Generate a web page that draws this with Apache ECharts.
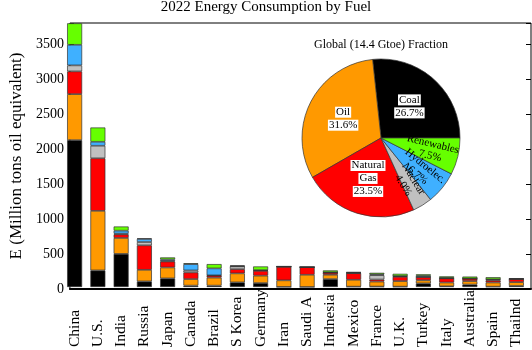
<!DOCTYPE html>
<html>
<head>
<meta charset="utf-8">
<script src="https://cdn.jsdelivr.net/npm/echarts@6/dist/echarts.min.js"></script>
<style>
  html, body { margin: 0; padding: 0; background: #fff; }
  #chart { width: 532px; height: 350px; }
</style>
</head>
<body>
<div id="chart"></div>
<script>
// countries, largest consumers first
const countries = ['China', 'U.S.', 'India', 'Russia', 'Japan', 'Canada', 'Brazil', 'S Korea', 'Germany', 'Iran',
  'Saudi A', 'Indnesia', 'Mexico', 'France', 'U.K.', 'Turkey', 'Italy', 'Australia', 'Spain', 'Thailnd']

// Mtoe per fuel
const coal = [2114, 239, 477, 81, 124, 20, 20, 67, 57, 1, 0, 114, 5, 6, 5, 52, 10, 35, 5, 15]
const oil = [662, 857, 229, 166, 157, 94, 115, 129, 106, 95, 176, 62, 99, 72, 80, 45, 55, 50, 60, 55]
const gas = [328, 757, 52, 353, 86, 96, 28, 61, 70, 195, 110, 30, 95, 30, 62, 47, 60, 35, 30, 45]
const nuclear = [86, 180, 10, 47, 10, 29, 5, 40, 6, 1, 0, 0, 3, 62, 10, 0, 0, 0, 12, 0]
const hydro = [296, 57, 43, 45, 20, 90, 100, 3, 4, 4, 0, 6, 6, 12, 1, 17, 8, 3, 4, 2]
const renewables = [310, 206, 60, 8, 29, 14, 62, 10, 53, 0, 0, 27, 6, 22, 32, 22, 20, 27, 30, 10]

// global share pie (percent)
const pieNames = ['Coal', 'Oil', 'Natural Gas', 'Nuclear', 'Hydroelec.', 'Renewables']
const pieShares = [26.7, 31.6, 23.5, 4.0, 6.7, 7.5]

const yTicks = [0, 500, 1000, 1500, 2000, 2500, 3000, 3500]

const colors = {
  Coal: '#000000',
  Oil: '#ff9900',
  'Natural Gas': '#ff0000',
  Nuclear: '#c0c0c0',
  'Hydroelec.': '#3fb0ff',
  Renewables: '#66ff00'
}

const serif = '"Liberation Serif", "DejaVu Serif", serif'
const chart = echarts.init(document.getElementById('chart'))

const fuelSeries = [
  ['Coal', coal], ['Oil', oil], ['Natural Gas', gas],
  ['Nuclear', nuclear], ['Hydroelec.', hydro], ['Renewables', renewables]
].map(([name, data]) => ({
  name: name,
  type: 'bar',
  stack: 'fuel',
  xAxisIndex: 0,
  yAxisIndex: 0,
  barWidth: 15,
  data: data,
  itemStyle: { color: colors[name], borderColor: '#333', borderWidth: 0.7 }
}))

// big slices get boxed labels inside, small ones get radial text
const boxed = ['Coal', 'Oil', 'Natural Gas']

const pieData = pieNames.map((n, i) => ({
  name: n,
  value: pieShares[i],
  itemStyle: { color: colors[n] },
  label: { show: boxed.includes(n) }
}))

// same slices, invisible, only used to carry the radial labels of the thin slices
const pieLabelData = pieNames.map((n, i) => ({
  name: n,
  value: pieShares[i],
  label: { show: !boxed.includes(n) }
}))

const option = {
  animation: false,
  title: [
    {
      text: '2022 Energy Consumption by Fuel',
      left: 'center',
      top: 0,
      padding: 0,
      textStyle: { fontFamily: serif, fontSize: 15, fontWeight: 'normal', color: '#000' }
    },
    {
      text: 'Global (14.4 Gtoe) Fraction',
      left: 381,
      textAlign: 'center',
      top: 39,
      padding: 0,
      textStyle: { fontFamily: serif, fontSize: 12, fontWeight: 'normal', color: '#000' }
    }
  ],
  grid: [
    { left: 63, right: 4, top: 23, bottom: 61 },
    { left: 60, right: 1, top: 23, bottom: 61, show: true, borderColor: '#000', borderWidth: 1, backgroundColor: 'transparent' }
  ],
  xAxis: [
    {
      type: 'category',
      gridIndex: 0,
      data: countries,
      axisLine: { show: false },
      axisTick: { show: false },
      axisLabel: {
        interval: 0,
        rotate: 90,
        align: 'left',
        margin: 60,
        fontFamily: serif,
        fontSize: 15.5,
        color: '#000'
      }
    },
    {
      type: 'value',
      gridIndex: 1,
      min: 0,
      max: 1,
      axisLine: { show: true, lineStyle: { color: '#000', width: 2 } },
      axisTick: { show: false },
      axisLabel: { show: false },
      splitLine: { show: false }
    }
  ],
  yAxis: [
    { type: 'value', gridIndex: 0, min: 0, max: 3800, show: false },
    {
      type: 'value',
      gridIndex: 1,
      min: 0,
      max: 3800,
      interval: 500,
      name: 'E (Million tons oil equivalent)',
      nameLocation: 'middle',
      nameGap: 44,
      nameTextStyle: { fontFamily: serif, fontSize: 17, color: '#000' },
      axisLine: { show: false },
      axisTick: { show: true, inside: true, length: 4, lineStyle: { color: '#000' } },
      axisLabel: {
        fontFamily: serif,
        fontSize: 14,
        color: '#000',
        margin: 6,
        formatter: v => (yTicks.includes(v) ? String(v) : '')
      },
      splitLine: { show: false }
    },
    {
      type: 'value',
      gridIndex: 1,
      position: 'right',
      min: 0,
      max: 3800,
      interval: 500,
      axisLine: { show: false },
      axisTick: { show: true, inside: true, length: 5, lineStyle: { color: '#000' } },
      axisLabel: { show: false },
      splitLine: { show: false }
    }
  ],
  series: [
    ...fuelSeries,
    {
      type: 'pie',
      center: [381, 138],
      radius: 79,
      startAngle: 0,
      clockwise: false,
      silent: true,
      data: pieData,
      itemStyle: { borderColor: '#333', borderWidth: 0.7 },
      label: {
        position: 'inside',
        fontFamily: serif,
        fontSize: 11,
        color: '#000',
        lineHeight: 13,
        formatter: p => p.name.split(' ').map(w => '{b|' + w + '}').join('\n') + '\n{b|' + p.value.toFixed(1) + '%}',
        rich: {
          b: { backgroundColor: '#fff', padding: [0, 1], fontFamily: serif, fontSize: 11, lineHeight: 13, color: '#000' }
        }
      },
      labelLine: { show: false },
      labelLayout: { hideOverlap: false }
    },
    {
      type: 'pie',
      center: [381, 138],
      radius: 52,
      startAngle: 0,
      clockwise: false,
      silent: true,
      avoidLabelOverlap: false,
      data: pieLabelData,
      itemStyle: { color: 'transparent', borderWidth: 0 },
      label: {
        position: 'outside',
        rotate: 'radial',
        distanceToLabelLine: 0,
        fontFamily: serif,
        fontSize: 11,
        color: '#000',
        lineHeight: 12,
        formatter: p => p.name + '\n' + p.value.toFixed(1) + '%'
      },
      labelLine: { show: false, length: 0, length2: 0 },
      labelLayout: () => ({ hideOverlap: false, align: 'center' }),
      emphasis: { disabled: true }
    }
  ]
}

option && chart.setOption(option)
</script>
</body>
</html>
